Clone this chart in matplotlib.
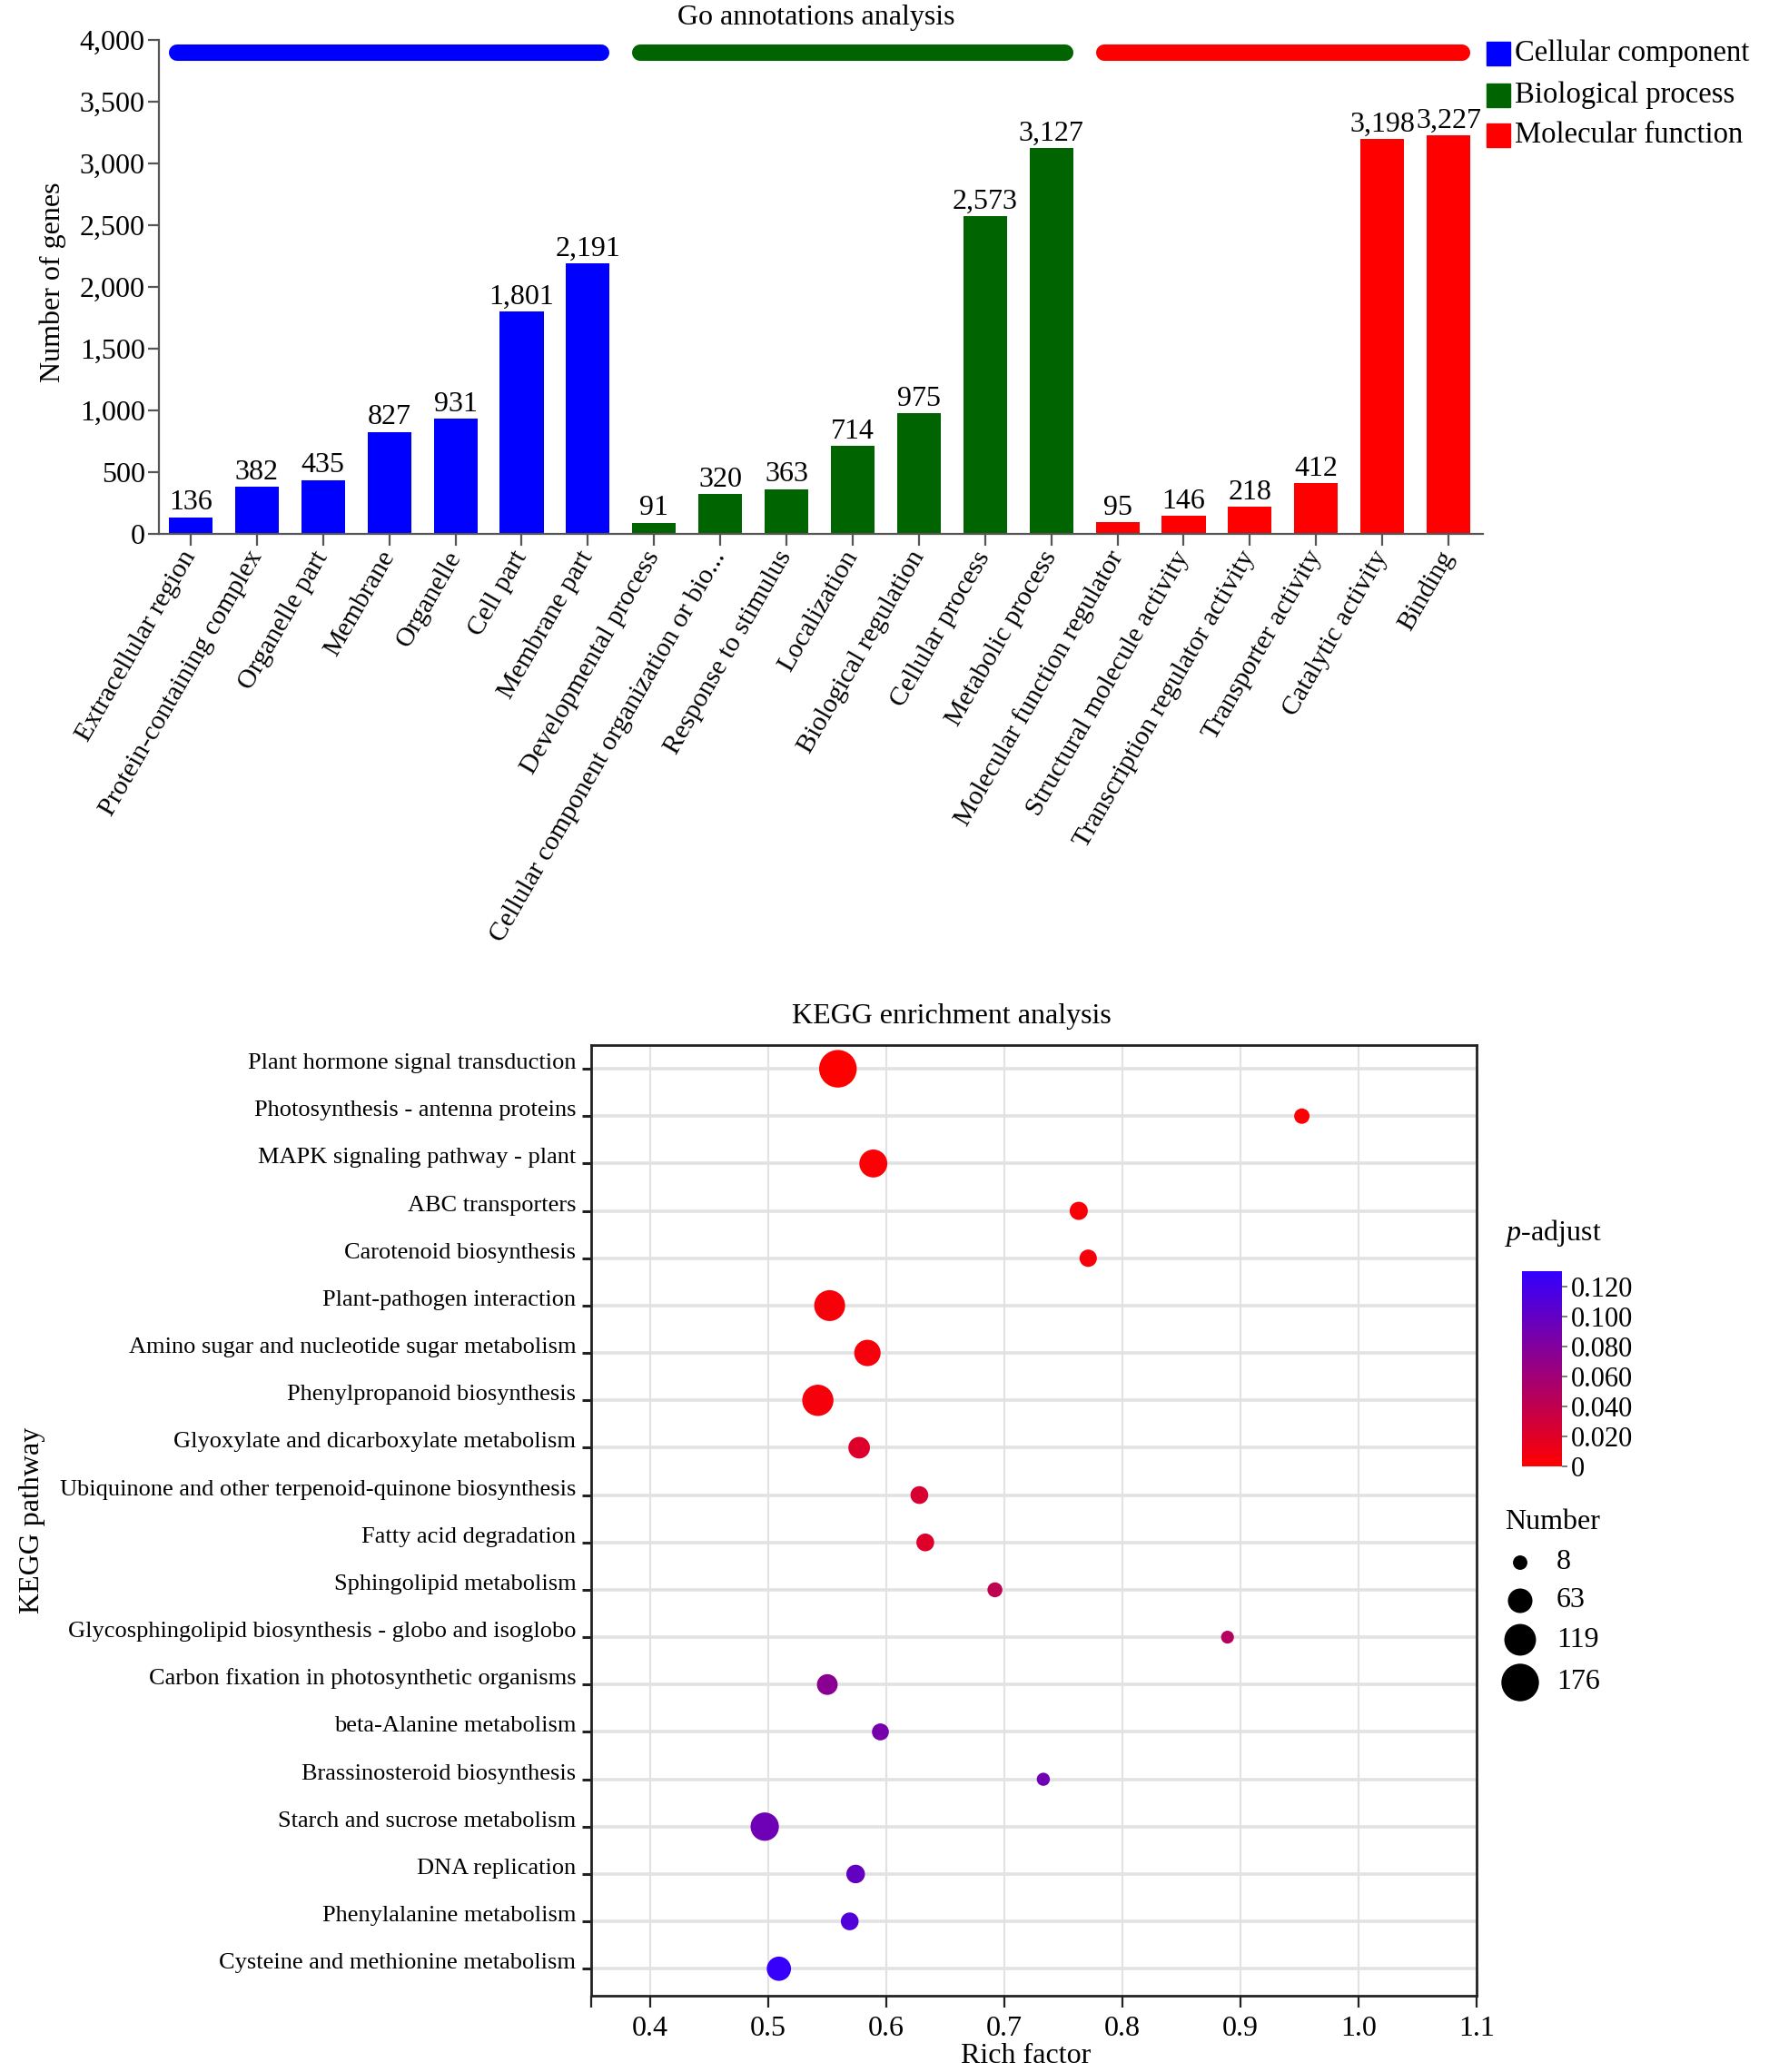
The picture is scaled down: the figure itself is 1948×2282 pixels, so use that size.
import matplotlib
matplotlib.use("Agg")
import matplotlib.pyplot as plt
import numpy as np
from matplotlib.colors import LinearSegmentedColormap, Normalize
from matplotlib.cm import ScalarMappable
from matplotlib.patches import Rectangle

plt.rcParams['font.family'] = ['Liberation Serif', 'DejaVu Serif']
plt.rcParams['mathtext.fontset'] = 'custom'
plt.rcParams['mathtext.rm'] = 'Liberation Serif'
plt.rcParams['mathtext.it'] = 'Liberation Serif:italic'

W, H = 1949, 2282

# ---- GO data ----
go_terms = ["Extracellular region", "Protein-containing complex", "Organelle part", "Membrane",
            "Organelle", "Cell part", "Membrane part",
            "Developmental process", "Cellular component organization or bio...",
            "Response to stimulus", "Localization", "Biological regulation",
            "Cellular process", "Metabolic process",
            "Molecular function regulator", "Structural molecule activity",
            "Transcription regulator activity", "Transporter activity",
            "Catalytic activity", "Binding"]
go_counts = [136, 382, 435, 827, 931, 1801, 2191,
             91, 320, 363, 714, 975, 2573, 3127,
             95, 146, 218, 412, 3198, 3227]
go_group = [0] * 7 + [1] * 7 + [2] * 6
group_names = ["Cellular component", "Biological process", "Molecular function"]
group_colors = ["#0000ff", "#006400", "#ff0000"]
go_yticks = [0, 500, 1000, 1500, 2000, 2500, 3000, 3500, 4000]

# ---- KEGG data ----
kegg_pathways = ["Plant hormone signal transduction", "Photosynthesis - antenna proteins",
                 "MAPK signaling pathway - plant", "ABC transporters",
                 "Carotenoid biosynthesis", "Plant-pathogen interaction",
                 "Amino sugar and nucleotide sugar metabolism", "Phenylpropanoid biosynthesis",
                 "Glyoxylate and dicarboxylate metabolism",
                 "Ubiquinone and other terpenoid-quinone biosynthesis",
                 "Fatty acid degradation", "Sphingolipid metabolism",
                 "Glycosphingolipid biosynthesis - globo and isoglobo",
                 "Carbon fixation in photosynthetic organisms", "beta-Alanine metabolism",
                 "Brassinosteroid biosynthesis", "Starch and sucrose metabolism",
                 "DNA replication", "Phenylalanine metabolism",
                 "Cysteine and methionine metabolism"]
rich_factor = [0.559, 0.952, 0.589, 0.763, 0.771, 0.552, 0.584, 0.542, 0.577, 0.628,
               0.633, 0.692, 0.889, 0.550, 0.595, 0.733, 0.497, 0.574, 0.569, 0.509]
gene_number = [176, 12, 88, 25, 21, 112, 76, 115, 44, 23,
               23, 10, 2, 39, 19, 3, 91, 27, 23, 61]
p_adjust = [0.0005, 0.002, 0.003, 0.004, 0.005, 0.005, 0.006, 0.006, 0.022, 0.025,
            0.021, 0.041, 0.048, 0.075, 0.087, 0.091, 0.092, 0.099, 0.111, 0.127]
size_legend = [8, 63, 119, 176]
cbar_ticks = [0, 0.02, 0.04, 0.06, 0.08, 0.10, 0.12]
cbar_labels = ["0", "0.020", "0.040", "0.060", "0.080", "0.100", "0.120"]
rich_ticks = [0.35, 0.4, 0.5, 0.6, 0.7, 0.8, 0.9, 1.0, 1.1]
rich_labels = ["", "0.4", "0.5", "0.6", "0.7", "0.8", "0.9", "1.0", "1.1"]


def dot_size(n):
    # area grows linearly with the gene number (diameter in px -> points^2)
    d2 = 183 + 8.7 * np.asarray(n, dtype=float)
    return d2 * 0.72 ** 2


def fig_ax(fig, left, top, right, bottom):
    return fig.add_axes([left / W, 1 - bottom / H, (right - left) / W, (bottom - top) / H])


fig = plt.figure(figsize=(W / 100, H / 100), dpi=100)

# ================= GO bar chart =================
ax1 = fig_ax(fig, 175, 44, 1633, 588)
x = np.arange(len(go_terms))
bar_w = 0.66
ax1.bar(x, go_counts, width=bar_w, color=[group_colors[g] for g in go_group], zorder=2)
for xi, v in zip(x, go_counts):
    ax1.annotate(f"{v:,}", (xi, v), xytext=(0, 1), textcoords="offset points",
                 ha="center", va="bottom", fontsize=23)

for gi, col in enumerate(group_colors):
    idx = [i for i, g in enumerate(go_group) if g == gi]
    start = min(idx) - bar_w / 2 + 0.125
    end = max(idx) + bar_w / 2 - 0.125
    ax1.plot([start, end], [3900, 3900], color=col, lw=13, solid_capstyle="round",
             clip_on=False, zorder=3)

ax1.set_xlim(-0.48, 19.52)
ax1.set_ylim(0, 4000)
ax1.set_yticks(go_yticks)
ax1.set_yticklabels([f"{t:,}" for t in go_yticks])
ax1.set_xticks(x)
ax1.set_xticklabels(go_terms, rotation=60, ha="right", va="center", rotation_mode="anchor")
for s in ["top", "right"]:
    ax1.spines[s].set_visible(False)
for s in ["left", "bottom"]:
    ax1.spines[s].set_color("#555555")
    ax1.spines[s].set_linewidth(1.6)
ax1.tick_params(axis="y", length=9, width=1.6, color="#555555", labelsize=23, pad=2)
ax1.tick_params(axis="x", length=9, width=1.6, color="#555555", labelsize=21.5, pad=6)

# ================= KEGG bubble chart =================
ax2 = fig_ax(fig, 651, 1151, 1626, 2198)
cmap = LinearSegmentedColormap.from_list("padj", ["#ff0000", "#3300ff"])
norm = Normalize(vmin=0, vmax=0.13)
y = np.arange(len(kegg_pathways))
ax2.scatter(rich_factor, y, s=dot_size(gene_number), c=p_adjust, cmap=cmap, norm=norm,
            edgecolors="none", zorder=3)
ax2.set_xlim(0.35, 1.1)
ax2.set_ylim(19.57, -0.5)
ax2.set_xticks(rich_ticks)
ax2.set_xticklabels(rich_labels)
ax2.set_yticks(y)
# pathway names sit a little above their row
ax2.set_yticklabels(kegg_pathways, va="baseline")
ax2.set_axisbelow(True)
ax2.grid(axis="x", color="#e2e2e2", lw=1.5)
ax2.grid(axis="y", color="#e2e2e2", lw=2.6)
for s in ax2.spines.values():
    s.set_color("#222222")
    s.set_linewidth(2)
ax2.tick_params(axis="y", length=7, width=2.2, color="#222222", labelsize=19, pad=5)
ax2.tick_params(axis="x", length=9, width=1.6, color="#222222", labelsize=23, pad=7)

# colorbar
cax = fig_ax(fig, 1676, 1400, 1720, 1615)
cb = fig.colorbar(ScalarMappable(norm=norm, cmap=cmap), cax=cax)
cb.set_ticks(cbar_ticks)
cb.set_ticklabels(cbar_labels)
cb.outline.set_visible(False)
cax.tick_params(length=4, width=1.2, color="#666666", labelsize=22, pad=3)

# ================= overlay texts / legends =================
ov = fig.add_axes([0, 0, 1, 1])
ov.set_xlim(0, W)
ov.set_ylim(H, 0)
ov.axis("off")

ov.text(899, 20, "Go annotations analysis", ha="center", va="center", fontsize=23)
ov.text(58, 311, "Number of genes", ha="center", va="center", rotation=90, fontsize=23)
for i, (name, col) in enumerate(zip(group_names, group_colors)):
    yc = [59, 105, 149][i]
    ov.add_patch(Rectangle((1637, yc - 13), 26, 26, color=col))
    ov.text(1668, yc, name, ha="left", va="center", fontsize=23.5)

ov.text(1048, 1120, "KEGG enrichment analysis", ha="center", va="center", fontsize=23)
ov.text(36, 1674, "KEGG pathway", ha="center", va="center", rotation=90, fontsize=23)
ov.text(1130, 2264, "Rich factor", ha="center", va="center", fontsize=23)
ov.text(1657, 1358, r"$p$-adjust", ha="left", va="center", fontsize=23)
ov.text(1657, 1677, "Number", ha="left", va="center", fontsize=23)
leg_y = [1721, 1763, 1806, 1853]
ov.scatter([1674] * len(size_legend), leg_y, s=dot_size(size_legend), c="black",
           edgecolors="none")
for yy, n in zip(leg_y, size_legend):
    ov.text(1714, yy, str(n), ha="left", va="center", fontsize=23)

fig.savefig("out.png", dpi=100)
